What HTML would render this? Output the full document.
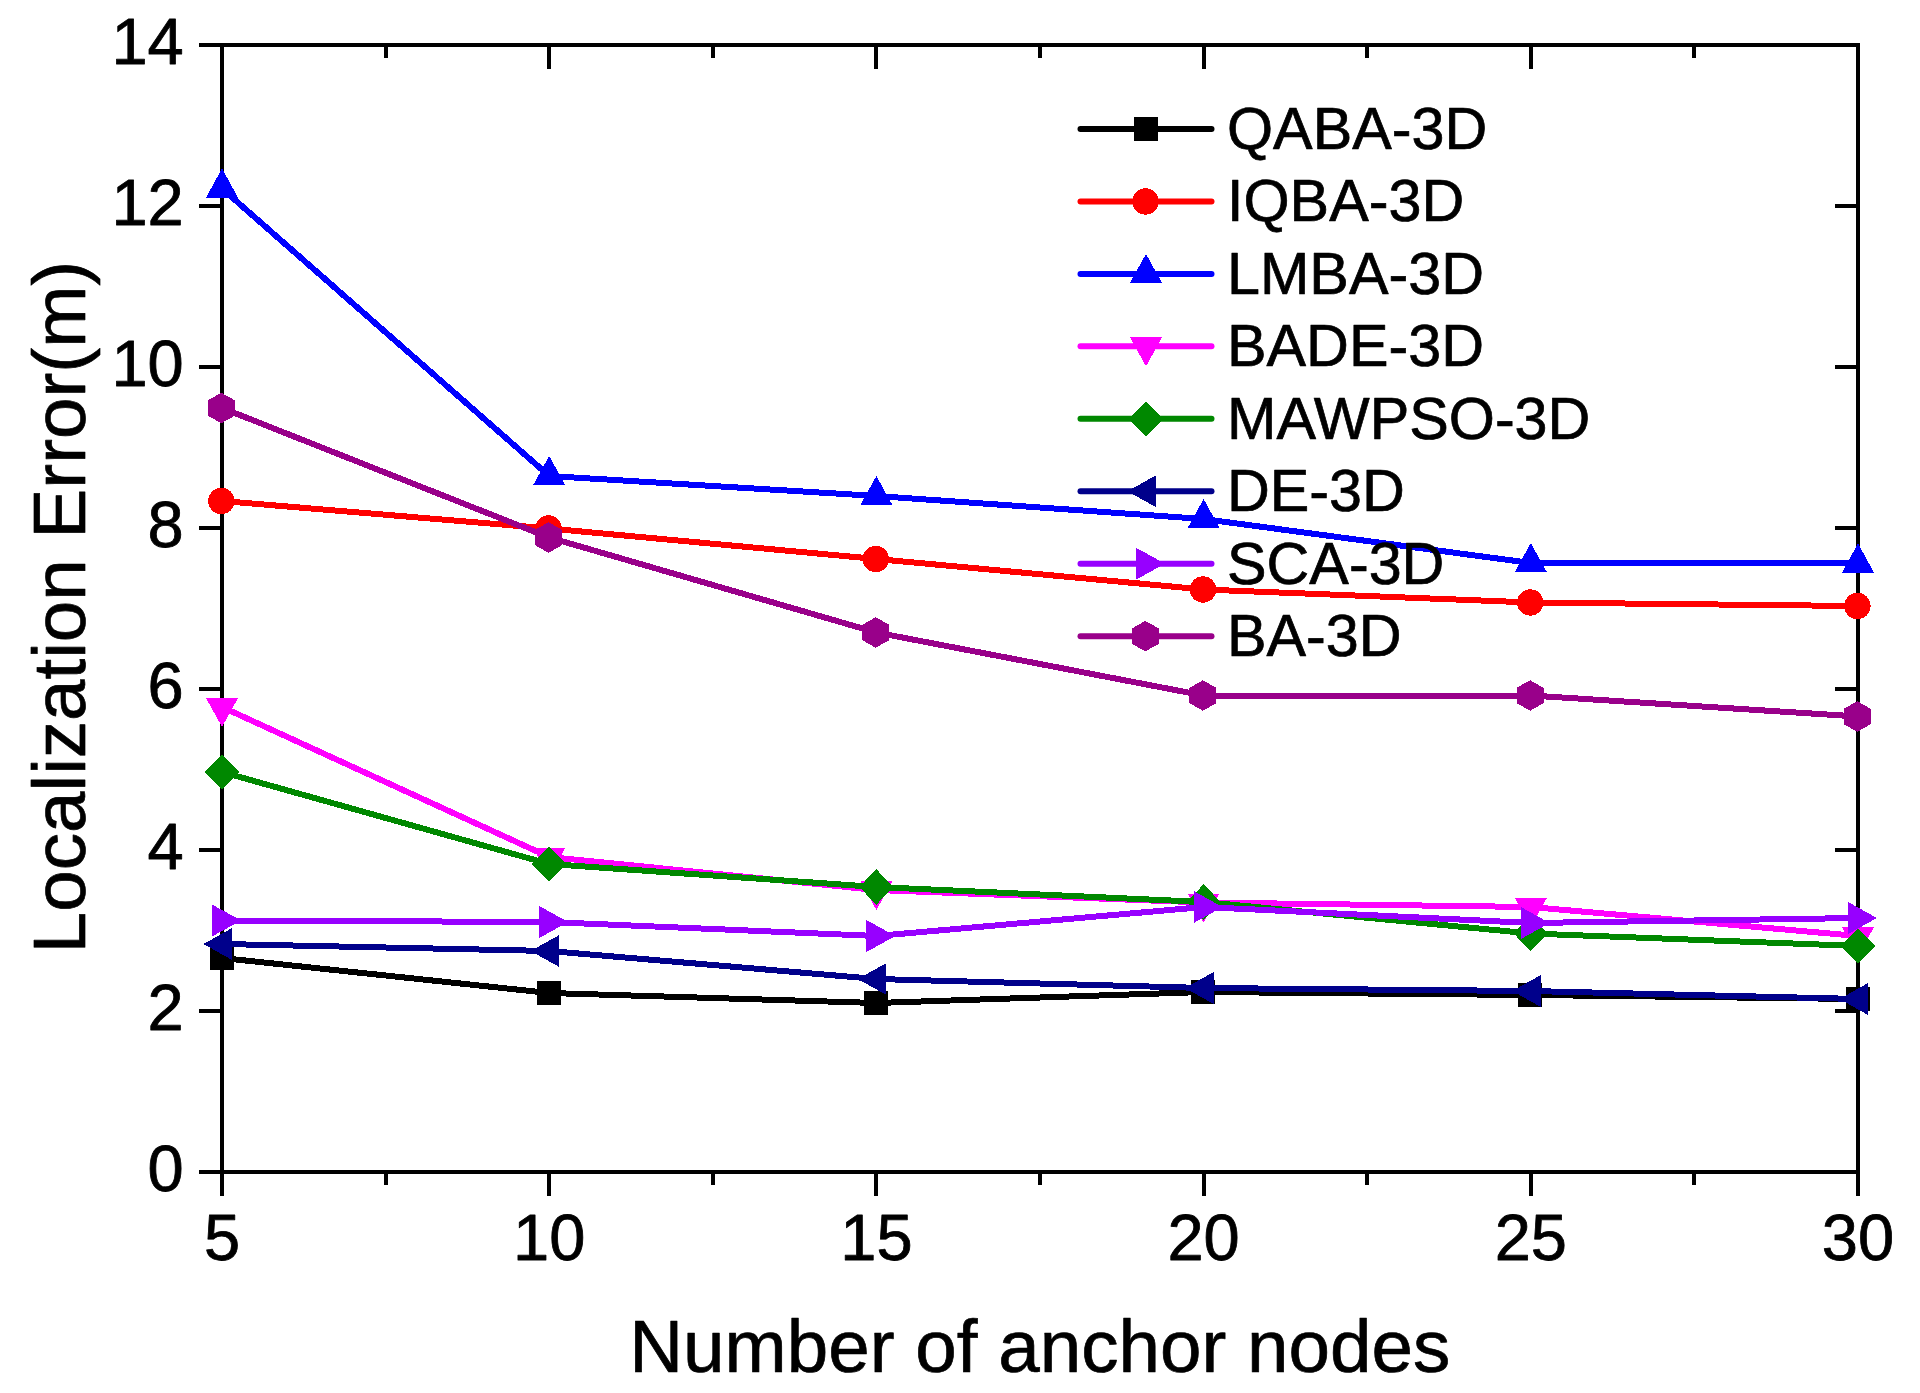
<!DOCTYPE html>
<html lang="en"><head><meta charset="utf-8"><title>Localization Error vs Number of anchor nodes</title>
<style>html,body{margin:0;padding:0;background:#fff}body{width:1920px;height:1393px;overflow:hidden}svg{display:block}text{font-family:"Liberation Sans",Arial,Helvetica,sans-serif;fill:#000}text{stroke:#000;stroke-linejoin:round}.tk{font-size:65px;stroke-width:.8px}.ti{font-size:75px;stroke-width:.7px}.lg{font-size:59.3px;stroke-width:.7px}</style></head><body>
<svg width="1920" height="1393" viewBox="0 0 1920 1393">
<rect width="1920" height="1393" fill="#fff"/>
<g id="axes" fill="#000" shape-rendering="crispEdges">
<rect x="220" y="43" width="4" height="1131"/>
<rect x="1856" y="43" width="4" height="1131"/>
<rect x="220" y="43" width="1640" height="4"/>
<rect x="220" y="1170" width="1640" height="4"/>
<rect x="199" y="1170" width="23" height="4"/>
<rect x="199" y="1009" width="23" height="4"/>
<rect x="1835" y="1009" width="23" height="4"/>
<rect x="199" y="848" width="23" height="4"/>
<rect x="1835" y="848" width="23" height="4"/>
<rect x="199" y="687" width="23" height="4"/>
<rect x="1835" y="687" width="23" height="4"/>
<rect x="199" y="526" width="23" height="4"/>
<rect x="1835" y="526" width="23" height="4"/>
<rect x="199" y="365" width="23" height="4"/>
<rect x="1835" y="365" width="23" height="4"/>
<rect x="199" y="204" width="23" height="4"/>
<rect x="1835" y="204" width="23" height="4"/>
<rect x="199" y="43" width="23" height="4"/>
<rect x="220" y="1172" width="4" height="24"/>
<rect x="384" y="1172" width="4" height="13"/>
<rect x="384" y="45" width="4" height="13"/>
<rect x="547" y="1172" width="4" height="24"/>
<rect x="547" y="45" width="4" height="24"/>
<rect x="711" y="1172" width="4" height="13"/>
<rect x="711" y="45" width="4" height="13"/>
<rect x="874" y="1172" width="4" height="24"/>
<rect x="874" y="45" width="4" height="24"/>
<rect x="1038" y="1172" width="4" height="13"/>
<rect x="1038" y="45" width="4" height="13"/>
<rect x="1202" y="1172" width="4" height="24"/>
<rect x="1202" y="45" width="4" height="24"/>
<rect x="1365" y="1172" width="4" height="13"/>
<rect x="1365" y="45" width="4" height="13"/>
<rect x="1529" y="1172" width="4" height="24"/>
<rect x="1529" y="45" width="4" height="24"/>
<rect x="1692" y="1172" width="4" height="13"/>
<rect x="1692" y="45" width="4" height="13"/>
<rect x="1856" y="1172" width="4" height="24"/>
</g>
<g id="data" shape-rendering="crispEdges">
<g><polyline points="222,958 549.2,993 876.4,1003 1203.6,992 1530.8,995 1858,999" fill="none" stroke="#000000" stroke-width="6" stroke-linejoin="round"/>
<rect x="209.5" y="946" width="24" height="24" fill="#000000"/>
<rect x="536.7" y="981" width="24" height="24" fill="#000000"/>
<rect x="863.9" y="991" width="24" height="24" fill="#000000"/>
<rect x="1191.1" y="980" width="24" height="24" fill="#000000"/>
<rect x="1518.3" y="983" width="24" height="24" fill="#000000"/>
<rect x="1845.5" y="987" width="24" height="24" fill="#000000"/>
</g>
<g><polyline points="222,501 549.2,528.5 876.4,559 1203.6,589.5 1530.8,602.5 1858,606" fill="none" stroke="#FF0000" stroke-width="6" stroke-linejoin="round"/>
<circle cx="221.4" cy="501" r="13.2" fill="#FF0000"/>
<circle cx="548.6" cy="528.5" r="13.2" fill="#FF0000"/>
<circle cx="875.8" cy="559" r="13.2" fill="#FF0000"/>
<circle cx="1203" cy="589.5" r="13.2" fill="#FF0000"/>
<circle cx="1530.2" cy="602.5" r="13.2" fill="#FF0000"/>
<circle cx="1857.4" cy="606" r="13.2" fill="#FF0000"/>
</g>
<g><polyline points="222,188.5 549.2,476 876.4,496 1203.6,519 1530.8,563 1858,563.5" fill="none" stroke="#0000FF" stroke-width="6" stroke-linejoin="round"/>
<polygon points="222,168.5 238,197.5 206,197.5" fill="#0000FF"/>
<polygon points="549.2,456 565.2,485 533.2,485" fill="#0000FF"/>
<polygon points="876.4,476 892.4,505 860.4,505" fill="#0000FF"/>
<polygon points="1203.6,499 1219.6,528 1187.6,528" fill="#0000FF"/>
<polygon points="1530.8,543 1546.8,572 1514.8,572" fill="#0000FF"/>
<polygon points="1858,543.5 1874,572.5 1842,572.5" fill="#0000FF"/>
</g>
<g><polyline points="222,707 549.2,857 876.4,890 1203.6,902.5 1530.8,907 1858,936" fill="none" stroke="#FF00FF" stroke-width="6" stroke-linejoin="round"/>
<polygon points="222,727 238,698 206,698" fill="#FF00FF"/>
<polygon points="549.2,877 565.2,848 533.2,848" fill="#FF00FF"/>
<polygon points="876.4,910 892.4,881 860.4,881" fill="#FF00FF"/>
<polygon points="1203.6,922.5 1219.6,893.5 1187.6,893.5" fill="#FF00FF"/>
<polygon points="1530.8,927 1546.8,898 1514.8,898" fill="#FF00FF"/>
<polygon points="1858,956 1874,927 1842,927" fill="#FF00FF"/>
</g>
<g><polyline points="222,772 549.2,864 876.4,887 1203.6,902 1530.8,933.5 1858,946" fill="none" stroke="#008800" stroke-width="6" stroke-linejoin="round"/>
<polygon points="222,754.3 239.2,772 222,789.7 204.8,772" fill="#008800"/>
<polygon points="549.2,846.3 566.4,864 549.2,881.7 532,864" fill="#008800"/>
<polygon points="876.4,869.3 893.6,887 876.4,904.7 859.2,887" fill="#008800"/>
<polygon points="1203.6,884.3 1220.8,902 1203.6,919.7 1186.4,902" fill="#008800"/>
<polygon points="1530.8,915.8 1548,933.5 1530.8,951.2 1513.6,933.5" fill="#008800"/>
<polygon points="1858,928.3 1875.2,946 1858,963.7 1840.8,946" fill="#008800"/>
</g>
<g><polyline points="222,944 549.2,951 876.4,979 1203.6,988 1530.8,991 1858,999" fill="none" stroke="#00008B" stroke-width="6" stroke-linejoin="round"/>
<polygon points="203.5,944 232,928 232,960" fill="#00008B"/>
<polygon points="530.7,951 559.2,935 559.2,967" fill="#00008B"/>
<polygon points="857.9,979 886.4,963 886.4,995" fill="#00008B"/>
<polygon points="1185.1,988 1213.6,972 1213.6,1004" fill="#00008B"/>
<polygon points="1512.3,991 1540.8,975 1540.8,1007" fill="#00008B"/>
<polygon points="1839.5,999 1868,983 1868,1015" fill="#00008B"/>
</g>
<g><polyline points="222,920.5 549.2,922 876.4,936 1203.6,907 1530.8,923 1858,918" fill="none" stroke="#9700FF" stroke-width="6" stroke-linejoin="round"/>
<polygon points="241,920.5 212,904.5 212,936.5" fill="#9700FF"/>
<polygon points="568.2,922 539.2,906 539.2,938" fill="#9700FF"/>
<polygon points="895.4,936 866.4,920 866.4,952" fill="#9700FF"/>
<polygon points="1222.6,907 1193.6,891 1193.6,923" fill="#9700FF"/>
<polygon points="1549.8,923 1520.8,907 1520.8,939" fill="#9700FF"/>
<polygon points="1877,918 1848,902 1848,934" fill="#9700FF"/>
</g>
<g><polyline points="222,408 549.2,537.5 876.4,632.5 1203.6,695.5 1530.8,695.5 1858,716.5" fill="none" stroke="#99008A" stroke-width="6" stroke-linejoin="round"/>
<polygon points="221.3,392.7 234.8,400.35 234.8,415.65 221.3,423.3 207.8,415.65 207.8,400.35" fill="#99008A"/>
<polygon points="548.5,522.2 562,529.85 562,545.15 548.5,552.8 535,545.15 535,529.85" fill="#99008A"/>
<polygon points="875.7,617.2 889.2,624.85 889.2,640.15 875.7,647.8 862.2,640.15 862.2,624.85" fill="#99008A"/>
<polygon points="1202.9,680.2 1216.4,687.85 1216.4,703.15 1202.9,710.8 1189.4,703.15 1189.4,687.85" fill="#99008A"/>
<polygon points="1530.1,680.2 1543.6,687.85 1543.6,703.15 1530.1,710.8 1516.6,703.15 1516.6,687.85" fill="#99008A"/>
<polygon points="1857.3,701.2 1870.8,708.85 1870.8,724.15 1857.3,731.8 1843.8,724.15 1843.8,708.85" fill="#99008A"/>
</g>
</g>
<g id="legend">
<g><line x1="1080.5" y1="129" x2="1211.5" y2="129" stroke="#000000" stroke-width="6" stroke-linecap="round"/>
<g shape-rendering="crispEdges"><rect x="1133.5" y="117" width="24" height="24" fill="#000000"/></g>
<text class="lg" transform="translate(1227,149) scale(1,1.012)">QABA-3D</text></g>
<g><line x1="1080.5" y1="201.45" x2="1211.5" y2="201.45" stroke="#FF0000" stroke-width="6" stroke-linecap="round"/>
<g shape-rendering="crispEdges"><circle cx="1145.4" cy="201.45" r="13.2" fill="#FF0000"/></g>
<text class="lg" transform="translate(1227,221.45) scale(1,1.012)">IQBA-3D</text></g>
<g><line x1="1080.5" y1="273.9" x2="1211.5" y2="273.9" stroke="#0000FF" stroke-width="6" stroke-linecap="round"/>
<g shape-rendering="crispEdges"><polygon points="1146,253.9 1162,282.9 1130,282.9" fill="#0000FF"/></g>
<text class="lg" transform="translate(1227,293.9) scale(1,1.012)">LMBA-3D</text></g>
<g><line x1="1080.5" y1="346.35" x2="1211.5" y2="346.35" stroke="#FF00FF" stroke-width="6" stroke-linecap="round"/>
<g shape-rendering="crispEdges"><polygon points="1146,366.35 1162,337.35 1130,337.35" fill="#FF00FF"/></g>
<text class="lg" transform="translate(1227,366.35) scale(1,1.012)">BADE-3D</text></g>
<g><line x1="1080.5" y1="418.8" x2="1211.5" y2="418.8" stroke="#008800" stroke-width="6" stroke-linecap="round"/>
<g shape-rendering="crispEdges"><polygon points="1146,401.1 1163.2,418.8 1146,436.5 1128.8,418.8" fill="#008800"/></g>
<text class="lg" transform="translate(1227,438.8) scale(1,1.012)">MAWPSO-3D</text></g>
<g><line x1="1080.5" y1="491.25" x2="1211.5" y2="491.25" stroke="#00008B" stroke-width="6" stroke-linecap="round"/>
<g shape-rendering="crispEdges"><polygon points="1127.5,491.25 1156,475.25 1156,507.25" fill="#00008B"/></g>
<text class="lg" transform="translate(1227,511.25) scale(1,1.012)">DE-3D</text></g>
<g><line x1="1080.5" y1="563.7" x2="1211.5" y2="563.7" stroke="#9700FF" stroke-width="6" stroke-linecap="round"/>
<g shape-rendering="crispEdges"><polygon points="1165,563.7 1136,547.7 1136,579.7" fill="#9700FF"/></g>
<text class="lg" transform="translate(1227,583.7) scale(1,1.012)">SCA-3D</text></g>
<g><line x1="1080.5" y1="636.15" x2="1211.5" y2="636.15" stroke="#99008A" stroke-width="6" stroke-linecap="round"/>
<g shape-rendering="crispEdges"><polygon points="1145.3,620.85 1158.8,628.5 1158.8,643.8 1145.3,651.45 1131.8,643.8 1131.8,628.5" fill="#99008A"/></g>
<text class="lg" transform="translate(1227,656.15) scale(1,1.012)">BA-3D</text></g>
</g>
<g id="ylabels" class="tk" text-anchor="end">
<text transform="translate(183.7,1191) scale(1,1.004)">0</text>
<text transform="translate(183.7,1030) scale(1,1.004)">2</text>
<text transform="translate(183.7,869) scale(1,1.004)">4</text>
<text transform="translate(183.7,708) scale(1,1.004)">6</text>
<text transform="translate(183.7,547) scale(1,1.004)">8</text>
<text transform="translate(183.7,386) scale(1,1.004)">10</text>
<text transform="translate(183.7,225) scale(1,1.004)">12</text>
<text transform="translate(183.7,64) scale(1,1.004)">14</text>
</g>
<g id="xlabels" class="tk" text-anchor="middle">
<text transform="translate(222,1260) scale(1,1.004)">5</text>
<text transform="translate(549.2,1260) scale(1,1.004)">10</text>
<text transform="translate(876.4,1260) scale(1,1.004)">15</text>
<text transform="translate(1203.6,1260) scale(1,1.004)">20</text>
<text transform="translate(1530.8,1260) scale(1,1.004)">25</text>
<text transform="translate(1858,1260) scale(1,1.004)">30</text>
</g>
<text class="ti" text-anchor="middle" transform="translate(1039.8,1372.3) scale(0.995,1)">Number of anchor nodes</text>
<text class="ti" text-anchor="middle" transform="translate(85.3,607) rotate(-90) scale(0.995,1)">Localization Error(m)</text>
</svg></body></html>
